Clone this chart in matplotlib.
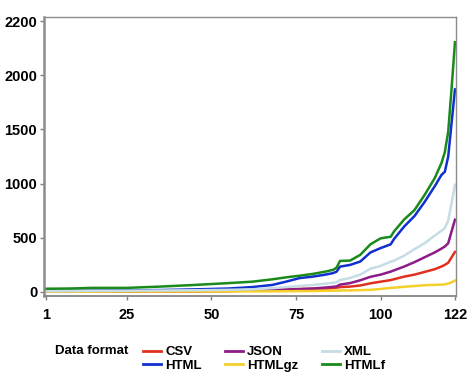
import numpy as np
import matplotlib
matplotlib.use("Agg")
import matplotlib.pyplot as plt

plt.rcParams['font.family'] = ['Liberation Sans', 'DejaVu Sans']

x = [1, 8, 15, 25, 35, 45, 55, 62, 68, 72, 76, 80, 84, 86, 87, 88, 91, 94,
     97, 100, 103, 104, 107, 110, 113, 116, 118, 119, 120, 121, 122]

csv_v = [2, 2, 3, 3, 4, 5, 7, 20, 24, 26, 28, 30, 32, 36, 40, 45, 50, 60,
         80, 95, 110, 118, 142, 160, 185, 210, 235, 250, 270, 320, 370]
html_v = [10, 10, 12, 14, 18, 24, 32, 45, 65, 95, 128, 142, 162, 175, 188, 234, 250, 281,
          365, 405, 440, 490, 605, 700, 830, 975, 1080, 1110, 1250, 1560, 1870]
json_v = [4, 4, 5, 6, 7, 9, 12, 15, 18, 22, 26, 32, 42, 48, 52, 68, 82, 108,
          140, 160, 188, 200, 235, 275, 320, 365, 400, 420, 450, 560, 667]
htmlgz_v = [3, 3, 3, 4, 4, 5, 5, 6, 6, 7, 8, 9, 11, 12, 12, 14, 15, 17,
            20, 28, 38, 40, 48, 55, 62, 66, 68, 70, 78, 90, 105]
xml_v = [8, 9, 10, 12, 14, 16, 20, 25, 35, 45, 55, 65, 78, 85, 90, 110, 130, 160,
         215, 240, 280, 290, 335, 395, 450, 520, 565, 590, 660, 820, 990]
htmlf_v = [30, 32, 38, 38, 50, 65, 82, 95, 117, 135, 150, 167, 190, 205, 225, 287, 290, 343,
           440, 495, 510, 560, 670, 755, 895, 1050, 1190, 1290, 1480, 1880, 2122]

names = ['CSV', 'HTML', 'JSON', 'HTMLgz', 'XML', 'HTMLf']
series = [csv_v, html_v, json_v, htmlgz_v, xml_v, htmlf_v]
colors = ['#e0301e', '#1030d0', '#8e1b8a', '#f5d02a', '#c6dde6', '#1a8a1a']

xticks = [1, 25, 50, 75, 100, 122]
yticks = [0, 500, 1000, 1500, 2000, 2200]

# axis above 2000 is stretched in the original
def fwd(v):
    v = np.asarray(v, dtype=float)
    return np.where(v <= 2000, v, 2000 + (v - 2000) * 2.5)

def inv(v):
    v = np.asarray(v, dtype=float)
    return np.where(v <= 2000, v, 2000 + (v - 2000) / 2.5)

fig = plt.figure(figsize=(4.74, 3.79), dpi=100)
ax = fig.add_axes([0.093, 0.219, 0.869, 0.736])
ax.set_yscale('function', functions=(fwd, inv))

lines = []
for name, vals, c in zip(names, series, colors):
    l, = ax.plot(x, vals, color=c, lw=1.8, label=name)
    lines.append(l)

ax.set_xlim(0.5, 122.3)
ax.set_ylim(-37, 2215)
ax.set_xticks(xticks)
ax.set_yticks(yticks)
ax.set_xticklabels([str(t) for t in xticks], fontsize=10.5, fontweight='bold')
ax.set_yticklabels([str(t) for t in yticks], fontsize=10.5, fontweight='bold')
ax.minorticks_off()
ax.tick_params(colors='#808080', labelcolor='black', length=3, width=1, pad=2)
ax.tick_params(axis='x', pad=6)
for s in ax.spines.values():
    s.set_color('#8c8c8c')
    s.set_linewidth(1)
ax.spines['left'].set_linewidth(1.8)
ax.spines['bottom'].set_linewidth(1.4)

fig.text(0.116, 0.074, 'Data format', fontsize=9.5, fontweight='bold', va='center')
leg = fig.legend(handles=lines, ncol=3, loc='center left', bbox_to_anchor=(0.287, 0.053),
                 frameon=False, prop={'size': 9.5, 'weight': 'bold'},
                 handlelength=1.4, handletextpad=0.3, columnspacing=1.75,
                 labelspacing=0.1, borderpad=0)
for l in leg.get_lines():
    l.set_linewidth(2)

fig.savefig('out.png', dpi=100)
